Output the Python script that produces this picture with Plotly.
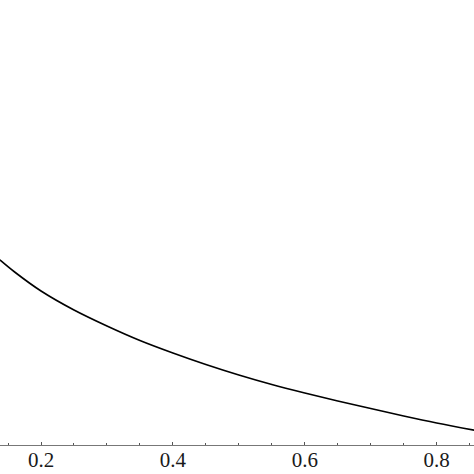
import plotly.graph_objects as go

x_vals = [0.13, 0.1378, 0.16, 0.2, 0.25, 0.3, 0.35, 0.4, 0.45, 0.5, 0.55, 0.6, 0.65, 0.7, 0.75, 0.8, 0.86]
y_vals = [1.895, 1.85, 1.73, 1.54, 1.35, 1.19, 1.045, 0.92, 0.805, 0.70, 0.605, 0.52, 0.44, 0.365, 0.29, 0.22, 0.145]
tick_vals = [0.2, 0.4, 0.6, 0.8]
tick_text = ["0.2", "0.4", "0.6", "0.8"]

fig = go.Figure()
fig.add_trace(go.Scatter(x=x_vals, y=y_vals, mode="lines",
                         line=dict(color="black", width=1.6, shape="spline", smoothing=1.0),
                         hoverinfo="skip"))

fig.update_layout(
    width=474, height=474,
    margin=dict(l=0, r=0, t=0, b=29, autoexpand=False),
    paper_bgcolor="white", plot_bgcolor="white",
    showlegend=False,
    xaxis=dict(range=[0.1378, 0.8566], tickvals=tick_vals, ticktext=tick_text,
               automargin=False, ticklabelstandoff=-4,
               ticks="inside", ticklen=3, tickwidth=1, tickcolor="#555555",
               showline=True, linecolor="#777777", linewidth=1,
               showgrid=False, zeroline=False,
               tickfont=dict(family="Liberation Serif", size=21, color="#1a1a1a"),
               minor=dict(ticks="inside", dtick=0.05, tick0=0, ticklen=2,
                          tickcolor="#555555", showgrid=False)),
    yaxis=dict(range=[0, 4.45], visible=False, showgrid=False, zeroline=False,
               automargin=False),
)

fig.write_html("out.html", config={"displayModeBar": False},
               post_script="document.body.style.margin='0';document.body.style.overflow='hidden';")
